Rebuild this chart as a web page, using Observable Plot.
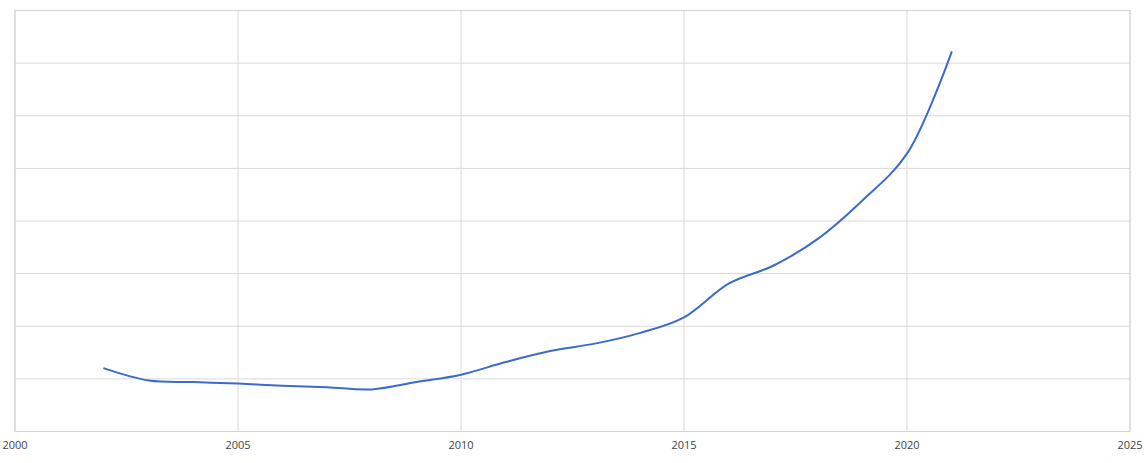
<!DOCTYPE html>
<html>
<head>
<meta charset="utf-8">
<script src="https://cdn.jsdelivr.net/npm/d3@7"></script>
<script src="https://cdn.jsdelivr.net/npm/@observablehq/plot@0.6"></script>
<style>
  html, body { margin: 0; padding: 0; background: #fff; }
  #chart svg { display: block; }
</style>
</head>
<body>
<div id="chart"></div>
<script>
const years = [2002, 2003, 2004, 2005, 2006, 2007, 2008, 2009, 2010, 2011,
               2012, 2013, 2014, 2015, 2016, 2017, 2018, 2019, 2020, 2021];
const values = [1.20, 0.97, 0.94, 0.91, 0.87, 0.84, 0.80, 0.94, 1.08, 1.32,
                1.53, 1.67, 1.87, 2.17, 2.81, 3.15, 3.66, 4.39, 5.28, 7.21];
const xTicks = [2000, 2005, 2010, 2015, 2020, 2025];
const yGrid = [1, 2, 3, 4, 5, 6, 7, 8];

const data = years.map((year, i) => ({year, value: values[i]}));

const chart = Plot.plot({
  width: 1144,
  height: 463,
  marginLeft: 14.5,
  marginRight: 14.5,
  marginTop: 10,
  marginBottom: 32,
  style: {fontFamily: "'Open Sans', 'Noto Sans', sans-serif", fontSize: "11px", color: "#444", background: "#fff"},
  x: {domain: [2000, 2025], ticks: xTicks, tickFormat: d => String(d), tickSize: 0, tickPadding: 10, label: null},
  y: {domain: [0, 8], axis: null},
  marks: [
    Plot.ruleY(yGrid, {stroke: "#d9d9d9", strokeWidth: 1, strokeOpacity: 1}),
    Plot.ruleX(xTicks, {stroke: "#d9d9d9", strokeWidth: 1, strokeOpacity: 1}),
    Plot.ruleY([0], {stroke: "#c8c8c8", strokeWidth: 1}),
    Plot.frame({stroke: "#d4d4d4", strokeWidth: 1}),
    Plot.line(data, {x: "year", y: "value", stroke: "#3b6bcb", strokeWidth: 2, curve: "catmull-rom"})
  ]
});
document.getElementById("chart").appendChild(chart);
</script>
</body>
</html>
